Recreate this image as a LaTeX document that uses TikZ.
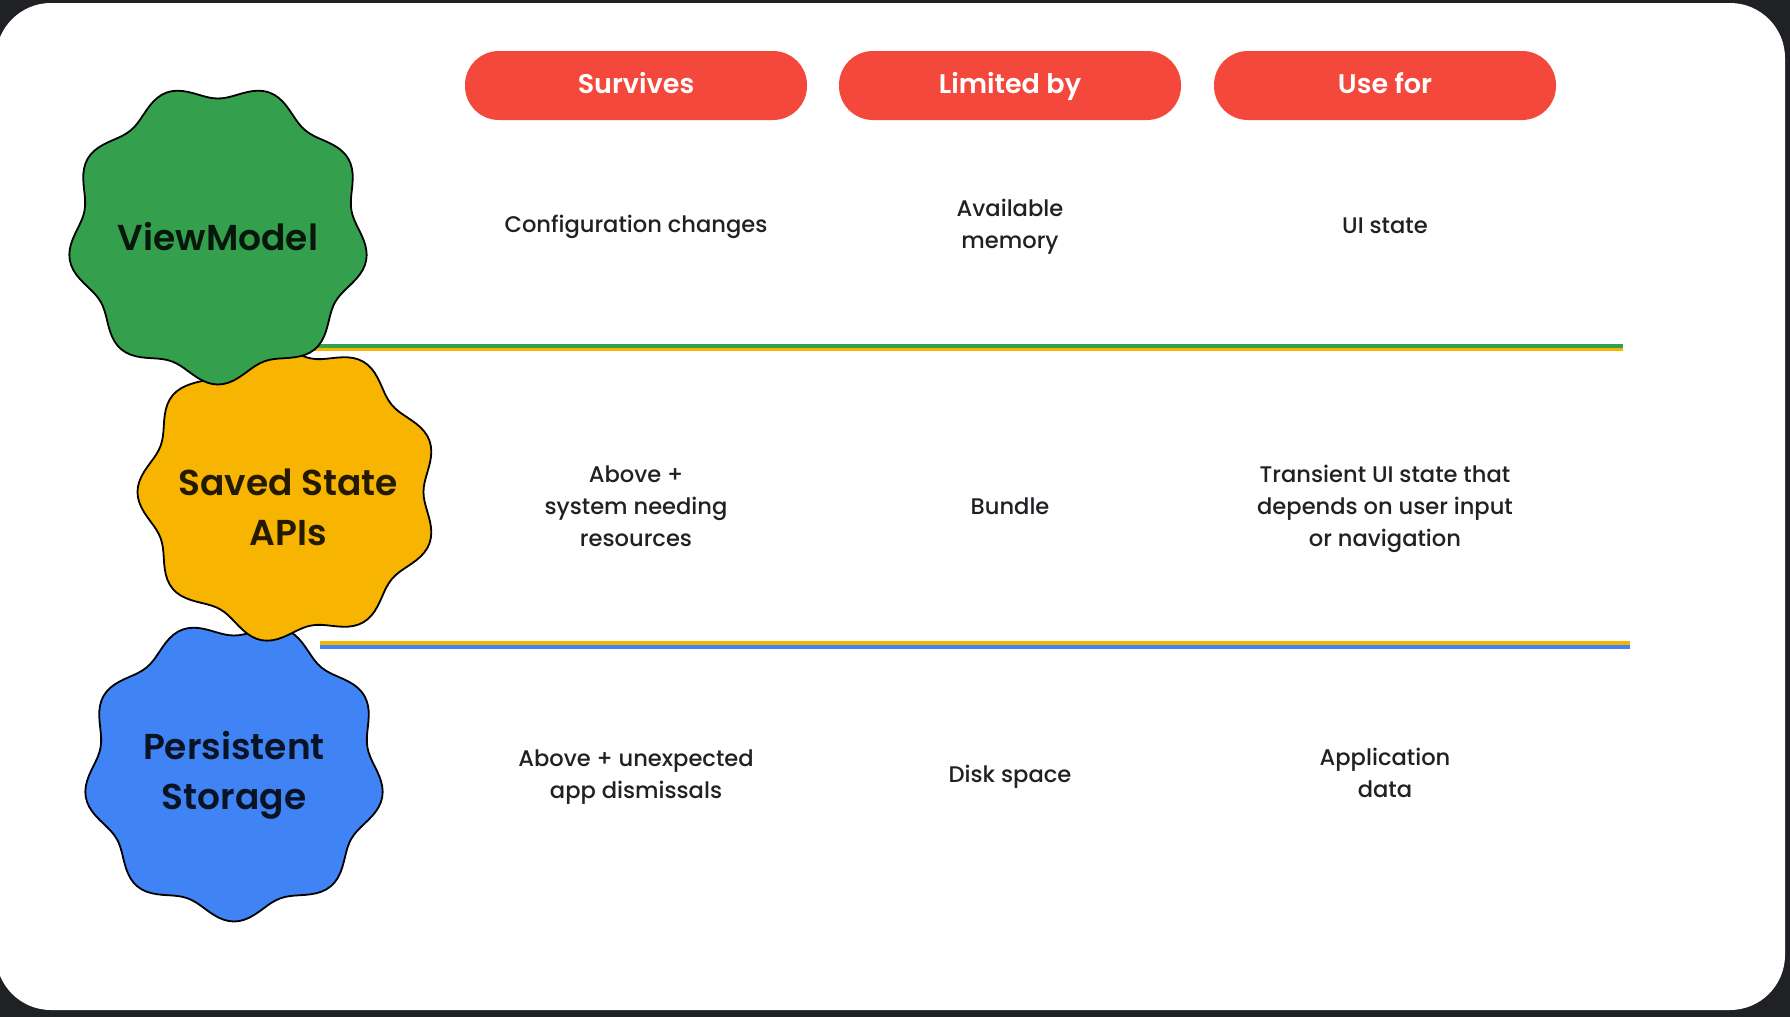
\documentclass[tikz,border=0pt]{standalone}
\usepackage{fontspec}
\setmainfont{Poppins}[UprightFont={Poppins Medium}, BoldFont={Poppins SemiBold}]
\usetikzlibrary{positioning}
\definecolor{frame}{HTML}{202124}
\definecolor{ink}{HTML}{202124}
\definecolor{pillred}{RGB}{245,72,61}
\definecolor{vmgreen}{HTML}{34A04E}
\definecolor{ssyellow}{HTML}{F7B400}
\definecolor{psblue}{HTML}{3F83F5}
\tikzset{
  pill/.style={fill=pillred, rounded corners=17pt, minimum width=171pt,
    minimum height=34.5pt, text height=10pt, text depth=2.5pt,
    text=white, font=\fontsize{13.5}{16}\selectfont\bfseries},
  cell/.style={text=ink, align=center, font=\fontsize{11.3}{16}\selectfont},
  blobtitle/.style={text=black, text opacity=0.85, align=center,
    font=\fontsize{18}{25}\selectfont\bfseries},
  blobline/.style={draw=black, line width=0.9pt}
}

\begin{document}
\begin{tikzpicture}[x=0.5pt, y=-0.5pt]
\fill[frame] (0,0) rectangle (1790,1017);
\useasboundingbox (0,0) rectangle (1790,1017);
\fill[white, rounded corners=27.5pt] (-4,3) rectangle (1785,1010);

\coordinate (vmrule) at (300,345.5);
\coordinate (vmrule end) at (1623,345.5);
\coordinate (ssrule) at (300,349);
\coordinate (ssrule end) at (1623,349);
\coordinate (ssrule2) at (320,643);
\coordinate (ssrule2 end) at (1630,643);
\coordinate (psrule) at (320,646.8);
\coordinate (psrule end) at (1630,646.8);
\draw[vmgreen, line width=2pt] (vmrule) -- (vmrule end);
\draw[ssyellow, line width=1.5pt] (ssrule) -- (ssrule end);
\draw[ssyellow, line width=2pt] (ssrule2) -- (ssrule2 end);
\draw[psblue, line width=1.75pt] (psrule) -- (psrule end);

\foreach \cx/\cy/\rot/\col in {
	234/771/90/psblue,
	288/492/100/ssyellow,
	218/234/90/vmgreen}
\draw[blobline, fill=\col, shift={(\cx,\cy)}]
  plot[domain=0:360, samples=181] (\x:{143+7.5*cos(9*(\x-\rot))}) -- cycle;

\node[blobtitle] (vm) at (218,237) {ViewModel};
\node[blobtitle] (ss) at (288,507) {Saved State\\APIs};
\node[blobtitle] (ps) at (234,775) {Persistent\\Storage};

\node[pill] (survives) at (636,85.5) {Survives};
\node[pill] (limited) at (1010,85.5) {Limited by};
\node[pill] (usefor) at (1385,85.5) {Use for};

\node[cell] (vm survives) at (636,227) {Configuration changes};
\node[cell] (vm limited) at (1010,227) {Available\\memory};
\node[cell] (vm usefor) at (1385,226) {UI state};

\node[cell] (ss survives) at (636,506) {Above +\\system needing\\resources};
\node[cell] (ss limited) at (1010,506) {Bundle};
\node[cell] (ss usefor) at (1385,509) {Transient UI state that\\depends on user input\\or navigation};

\node[cell] (ps survives) at (636,777) {Above + unexpected\\app dismissals};
\node[cell] (ps limited) at (1010,777) {Disk space};
\node[cell] (ps usefor) at (1385,773) {Application\\data};

\end{tikzpicture}
\end{document}
